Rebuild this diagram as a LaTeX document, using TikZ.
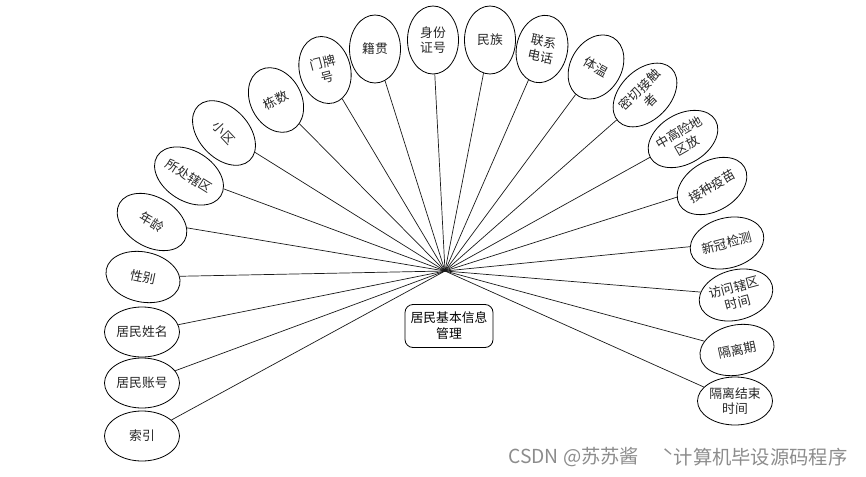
\documentclass[tikz,border=0pt]{standalone}
\usepackage{fontspec}
\newfontfamily\cjk{Noto Sans CJK SC}
\usetikzlibrary{shapes.geometric}
\tikzset{
  attr/.style={ellipse, draw=black, line width=0.8pt, inner sep=0pt, align=center,
    font=\cjk\fontsize{12.8}{15.5}\selectfont, text=black!85},
  hattr/.style={attr, minimum width=75pt, minimum height=50pt},
  vattr/.style={attr, minimum width=51pt, minimum height=68pt},
  ent/.style={draw=black, line width=0.8pt, rounded corners=8pt, minimum width=88pt,
    minimum height=43pt, inner sep=0pt, align=center, font=\cjk\fontsize{12.8}{16}\selectfont},
  conn/.style={line width=0.7pt, draw=black!90},
  wm/.style={font=\cjk\fontsize{19.3}{20}\selectfont, text=black!45, inner sep=0pt}
}
\begin{document}
\begin{tikzpicture}[x=1pt,y=-1pt]
\useasboundingbox (0,0) rectangle (866,476);
\coordinate (hub) at (445,271);
% left column
\node[hattr] (suoyin) at (142,436) {索引};
\node[hattr] (zhanghao) at (142,383) {居民账号};
\node[hattr] (xingming) at (142,332) {居民姓名};
\node[hattr, rotate=-12] (xingbie) at (143,277) {性别};
\node[hattr, rotate=-30] (nianling) at (152,222) {年龄};
\node[hattr, rotate=-32] (xiaqu) at (189,176) {所处辖区};
\node[hattr, rotate=-47] (xiaoqu) at (224,133) {小区};
% top arc
\node[vattr, rotate=28] (dongshu) at (276,100) {栋数};
\node[vattr, rotate=15] (menpai) at (325,70) {门牌\\号};
\node[vattr] (jiguan) at (375,49) {籍贯};
\node[vattr] (shenfen) at (433,40) {身份\\证号};
\node[vattr] (minzu) at (490,40) {民族};
\node[vattr, rotate=-12] (lianxi) at (542,49) {联系\\电话};
\node[vattr, rotate=-30] (tiwen) at (596,67) {体温};
% right column
\node[hattr, rotate=45] (miqie) at (645,95) {密切接触\\者};
\node[hattr, rotate=30] (zhonggao) at (683,139) {中高险地\\区放};
\node[hattr, rotate=30] (jiezhong) at (712,186) {接种疫苗};
\node[hattr, rotate=15] (xinguan) at (727,243) {新冠检测};
\node[hattr, rotate=15] (fangwen) at (736,295) {访问辖区\\时间};
\node[hattr, rotate=12] (geliqi) at (737,350) {隔离期};
\node[hattr, minimum height=48pt] (jieshu) at (735,401) {隔离结束\\时间};
% entity
\node[ent] (center) at (449,326) {居民基本信息\\管理};
% connectors
\foreach \n in {suoyin,zhanghao,xingming,xingbie,nianling,xiaqu,xiaoqu,dongshu,menpai,jiguan,shenfen,minzu,lianxi,tiwen,miqie,zhonggao,jiezhong,xinguan,fangwen,geliqi,jieshu}
  \draw[conn] (hub) -- (\n);
% watermark
\node[wm, anchor=west] (wm1) at (508,457) {CSDN @苏苏酱};
\node[wm, anchor=west] (wm2) at (662,457) {ˋ计算机毕设源码程序};
\end{tikzpicture}
\end{document}
